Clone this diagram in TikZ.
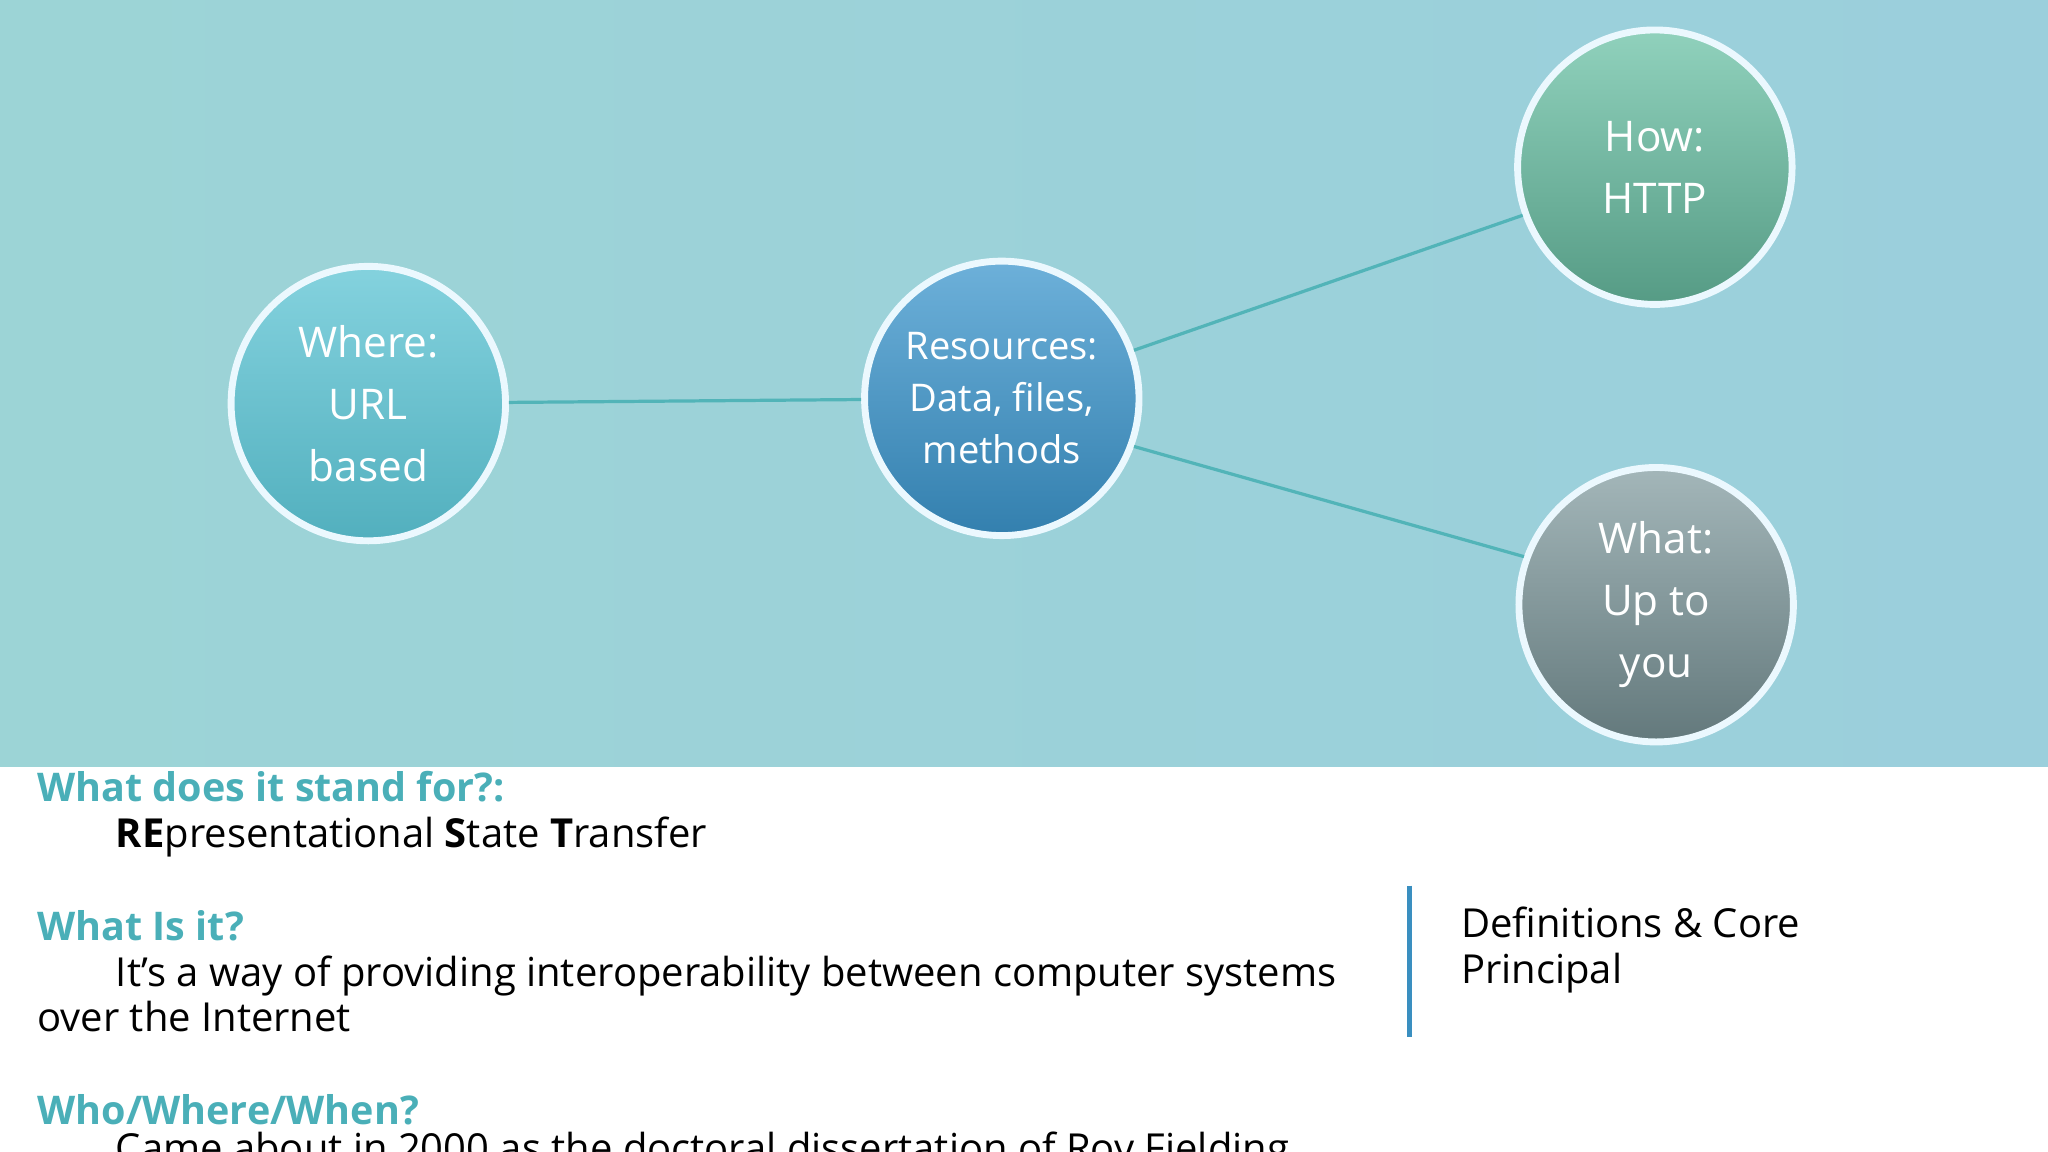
\documentclass[tikz,border=0pt]{standalone}
\usepackage{fontspec}
\setmainfont{Open Sans}
\definecolor{band}{HTML}{9CD4D6}
\definecolor{bandr}{HTML}{9BCFDC}
\definecolor{head}{HTML}{4AAFB8}
\definecolor{conn}{HTML}{52B4B8}
\definecolor{cwhere}{HTML}{5BC3D3}
\definecolor{cres}{HTML}{3C96CD}
\definecolor{chow}{HTML}{6BC2A6}
\definecolor{cwhat}{HTML}{7C979B}
\definecolor{vbar}{HTML}{3A8FC0}
\begin{document}
\begin{tikzpicture}[x=0.01cm,y=-0.01cm,
  bubble/.style={circle,minimum size=2.1cm,inner sep=0pt,draw=white!92!cyan,line width=1.5pt,text=white,align=center,font=\fontsize{9.2}{13.5}\selectfont},
  conn/.style={draw=conn,line width=0.7pt},
  hd/.style={anchor=base west,inner sep=0pt,text=head,font=\fontsize{8.6}{10}\selectfont\bfseries},
  bd/.style={anchor=base west,inner sep=0pt,text=black,font=\fontsize{8.7}{10}\selectfont}]
\useasboundingbox (0,0) rectangle (1568,882);
\clip (0,0) rectangle (1568,882);
\fill[left color=band,right color=bandr] (0,0) rectangle (1568,587);
\node[bubble,top color=cwhere!75!white,bottom color=cwhere!90!black] (where) at (282,309) {Where:\\URL\\based};
\node[bubble,top color=cres!75!white,bottom color=cres!85!black,font=\fontsize{8.3}{11.3}\selectfont] (res) at (767,305) {Resources:\\Data, files,\\methods};
\node[bubble,top color=chow!75!white,bottom color=chow!80!black] (how) at (1267,128) {How:\\HTTP};
\node[bubble,top color=cwhat!70!white,bottom color=cwhat!80!black] (what) at (1268,463) {What:\\Up to\\you};
\draw[conn] (where) -- (res);
\draw[conn] (res.20) -- (how.200);
\draw[conn] (res.-20) -- (what.160);
\node[hd] (h1) at (28,614) {What does it stand for?:};
\node[bd] (b1) at (88,649) {\textbf{RE}presentational \textbf{S}tate \textbf{T}ransfer};
\node[hd] (h2) at (28,720) {What Is it?};
\node[bd] (b2) at (88,755) {It’s a way of providing interoperability between computer systems};
\node[bd] (b3) at (28,790) {over the Internet};
\node[hd] (h3) at (28,861) {Who/Where/When?};
\node[bd] (b4) at (88,890) {Came about in 2000 as the doctoral dissertation of Roy Fielding};
\coordinate (v1) at (1079,678);
\coordinate (v2) at (1079,794);
\draw[vbar,line width=1.2pt] (v1) -- (v2);
\node[bd,align=left,anchor=north west] (def) at (1118,694) {Definitions \& Core\\Principal};
\end{tikzpicture}
\end{document}
